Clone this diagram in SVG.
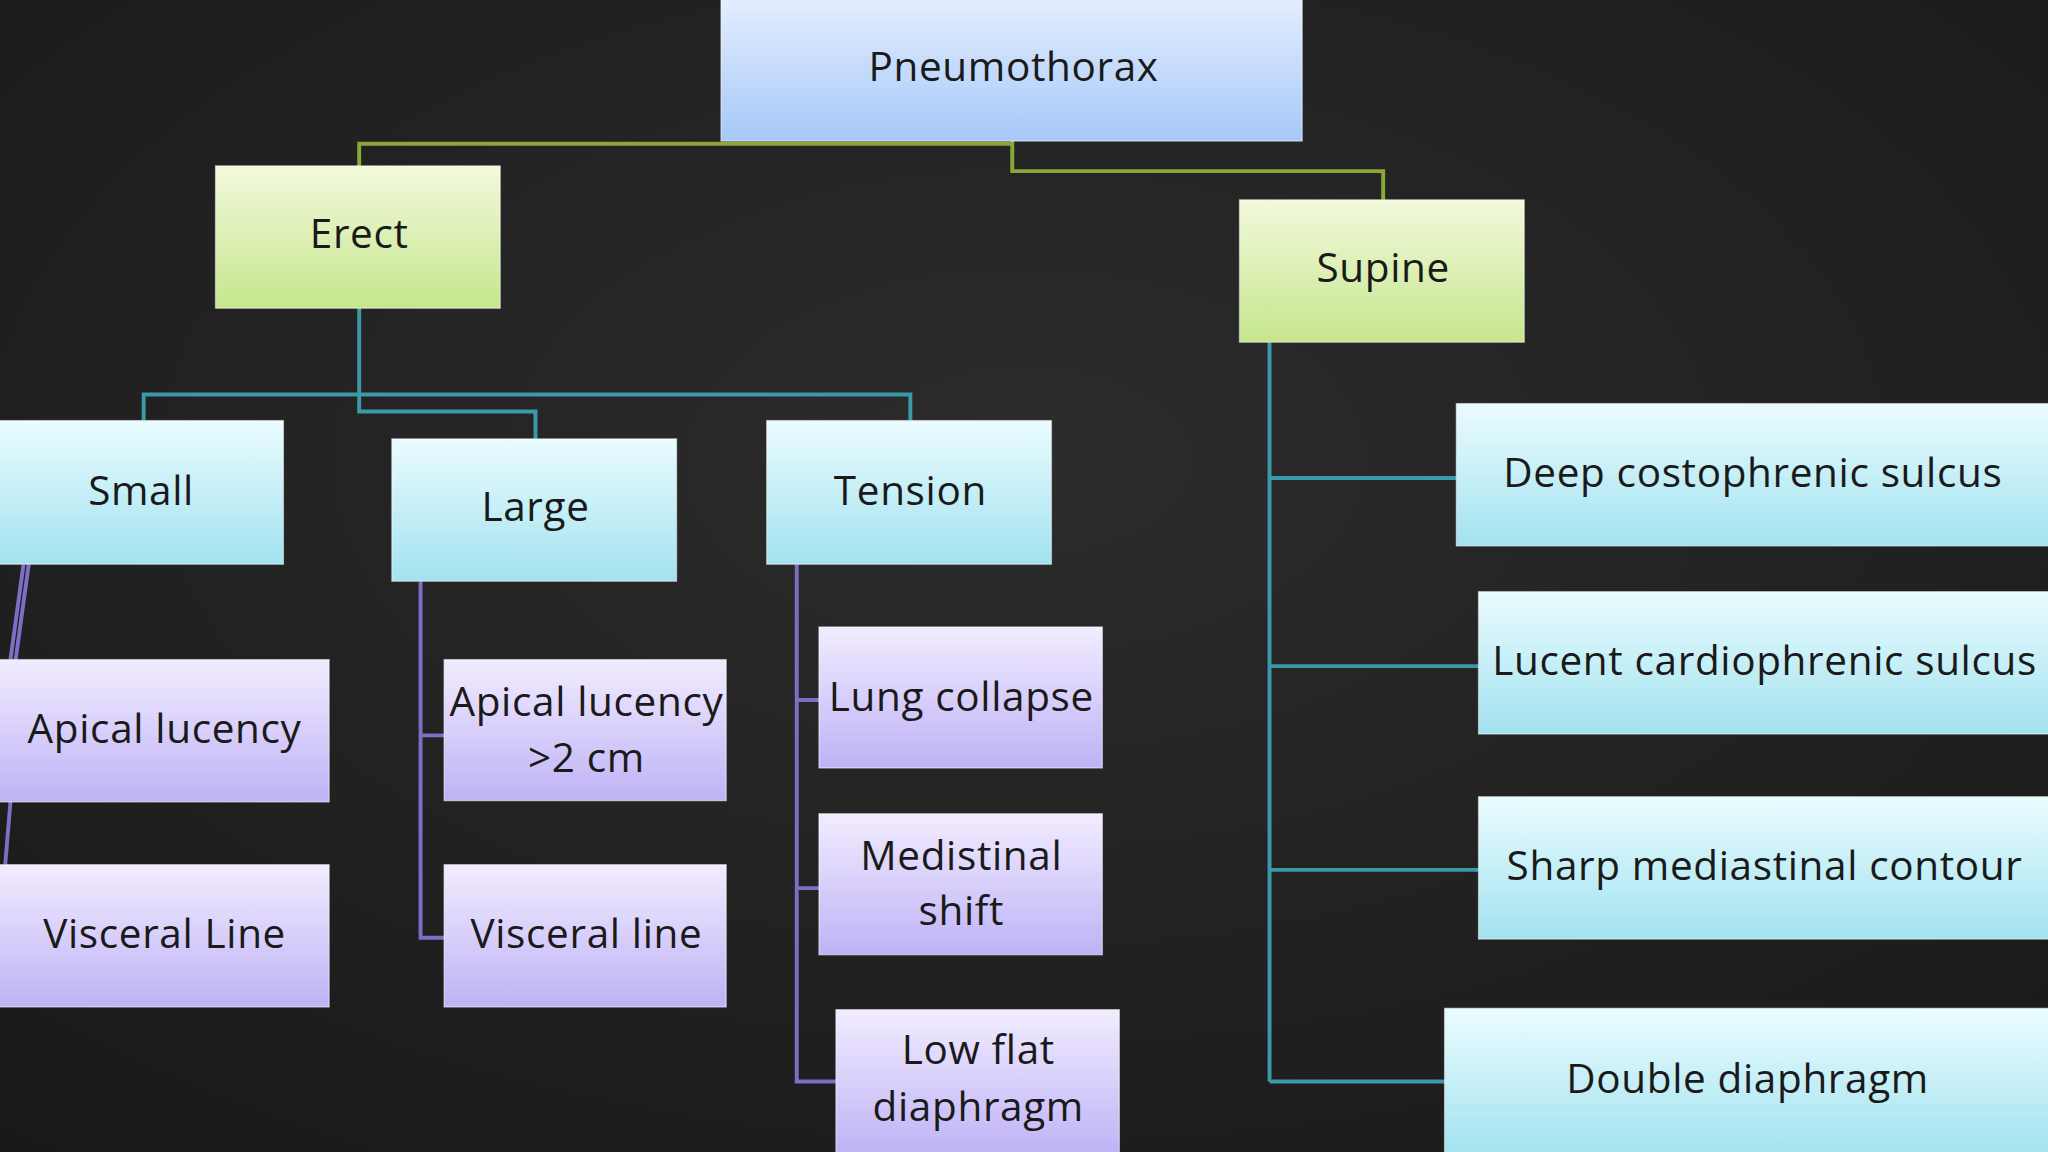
<svg xmlns="http://www.w3.org/2000/svg" width="2048" height="1152" viewBox="0 0 2048 1152">
<defs>
<radialGradient id="bg" cx="0.5" cy="0.4" r="0.8"><stop offset="0" stop-color="#2c2c2c"/><stop offset="1" stop-color="#181818"/></radialGradient>
<linearGradient id="gb" x1="0" y1="0" x2="0" y2="1"><stop offset="0" stop-color="#e4eeff"/><stop offset="1" stop-color="#a6c8f6"/></linearGradient>
<linearGradient id="gg" x1="0" y1="0" x2="0" y2="1"><stop offset="0" stop-color="#f2f9dc"/><stop offset="1" stop-color="#c6e68c"/></linearGradient>
<linearGradient id="gc" x1="0" y1="0" x2="0" y2="1"><stop offset="0" stop-color="#eafcff"/><stop offset="1" stop-color="#a2e2ef"/></linearGradient>
<linearGradient id="gp" x1="0" y1="0" x2="0" y2="1"><stop offset="0" stop-color="#f2ecff"/><stop offset="1" stop-color="#bfb2f6"/></linearGradient>
</defs>
<style>
.b rect{stroke:#ffffff;stroke-opacity:0.5;stroke-width:1}
text{font-family:"Open Sans","DejaVu Sans",sans-serif;font-size:31px;fill:#1a1a1a;text-anchor:middle;letter-spacing:0.5px}
.g{stroke:#8aa83a;stroke-width:3;fill:none}
.t{stroke:#3a9aa8;stroke-width:3;fill:none}
.p{stroke:#7f6ec6;stroke-width:3;fill:none}
</style>
<rect width="2048" height="1152" fill="url(#bg)"/>
<g transform="scale(1.30612)">
<g id="connectors">
<path class="g" d="M275,127V110H775V131H1059V153M775,108V131"/>
<path class="t" d="M275,236V302M110,322V302H697V322M275,302V315H410V336"/>
<path class="t" d="M972,262V828M972,366H1115M972,510H1132M972,666H1132M972,828H1106"/>
<path class="p" d="M22,432L12,505M18,432L8,505M8,614L4,662"/>
<path class="p" d="M322,445V718H340M322,563H340"/>
<path class="p" d="M610,432V828H640M610,536H627M610,680H627"/>
</g>
<g id="pneumothorax" class="b"><rect x="552" y="-2" width="445" height="110" fill="url(#gb)"/><text x="776" y="62">Pneumothorax</text></g>
<g id="erect" class="b"><rect x="165" y="127" width="218" height="109" fill="url(#gg)"/><text x="275" y="190">Erect</text></g>
<g id="supine" class="b"><rect x="949" y="153" width="218" height="109" fill="url(#gg)"/><text x="1059" y="216">Supine</text></g>
<g id="small" class="b"><rect x="-2" y="322" width="219" height="110" fill="url(#gc)"/><text x="108" y="387">Small</text></g>
<g id="large" class="b"><rect x="300" y="336" width="218" height="109" fill="url(#gc)"/><text x="410" y="399">Large</text></g>
<g id="tension" class="b"><rect x="587" y="322" width="218" height="110" fill="url(#gc)"/><text x="697" y="387">Tension</text></g>
<g id="deep" class="b"><rect x="1115" y="309" width="455" height="109" fill="url(#gc)"/><text x="1342" y="373">Deep costophrenic sulcus</text></g>
<g id="lucent" class="b"><rect x="1132" y="453" width="438" height="109" fill="url(#gc)"/><text x="1351" y="517">Lucent cardiophrenic sulcus</text></g>
<g id="sharp" class="b"><rect x="1132" y="610" width="438" height="109" fill="url(#gc)"/><text x="1351" y="674">Sharp mediastinal contour</text></g>
<g id="double" class="b"><rect x="1106" y="772" width="464" height="112" fill="url(#gc)"/><text x="1338" y="837">Double diaphragm</text></g>
<g id="apical1" class="b"><rect x="-2" y="505" width="254" height="109" fill="url(#gp)"/><text x="126" y="569">Apical lucency</text></g>
<g id="visceral1" class="b"><rect x="-2" y="662" width="254" height="109" fill="url(#gp)"/><text x="126" y="726">Visceral Line</text></g>
<g id="apical2" class="b"><rect x="340" y="505" width="216" height="108" fill="url(#gp)"/><text x="449" y="548">Apical lucency</text><text x="449" y="591">&gt;2 cm</text></g>
<g id="visceral2" class="b"><rect x="340" y="662" width="216" height="109" fill="url(#gp)"/><text x="449" y="726">Visceral line</text></g>
<g id="lung" class="b"><rect x="627" y="480" width="217" height="108" fill="url(#gp)"/><text x="736" y="544">Lung collapse</text></g>
<g id="medi" class="b"><rect x="627" y="623" width="217" height="108" fill="url(#gp)"/><text x="736" y="666">Medistinal</text><text x="736" y="708">shift</text></g>
<g id="low" class="b"><rect x="640" y="773" width="217" height="111" fill="url(#gp)"/><text x="749" y="815">Low flat</text><text x="749" y="858">diaphragm</text></g>
</g>
</svg>
